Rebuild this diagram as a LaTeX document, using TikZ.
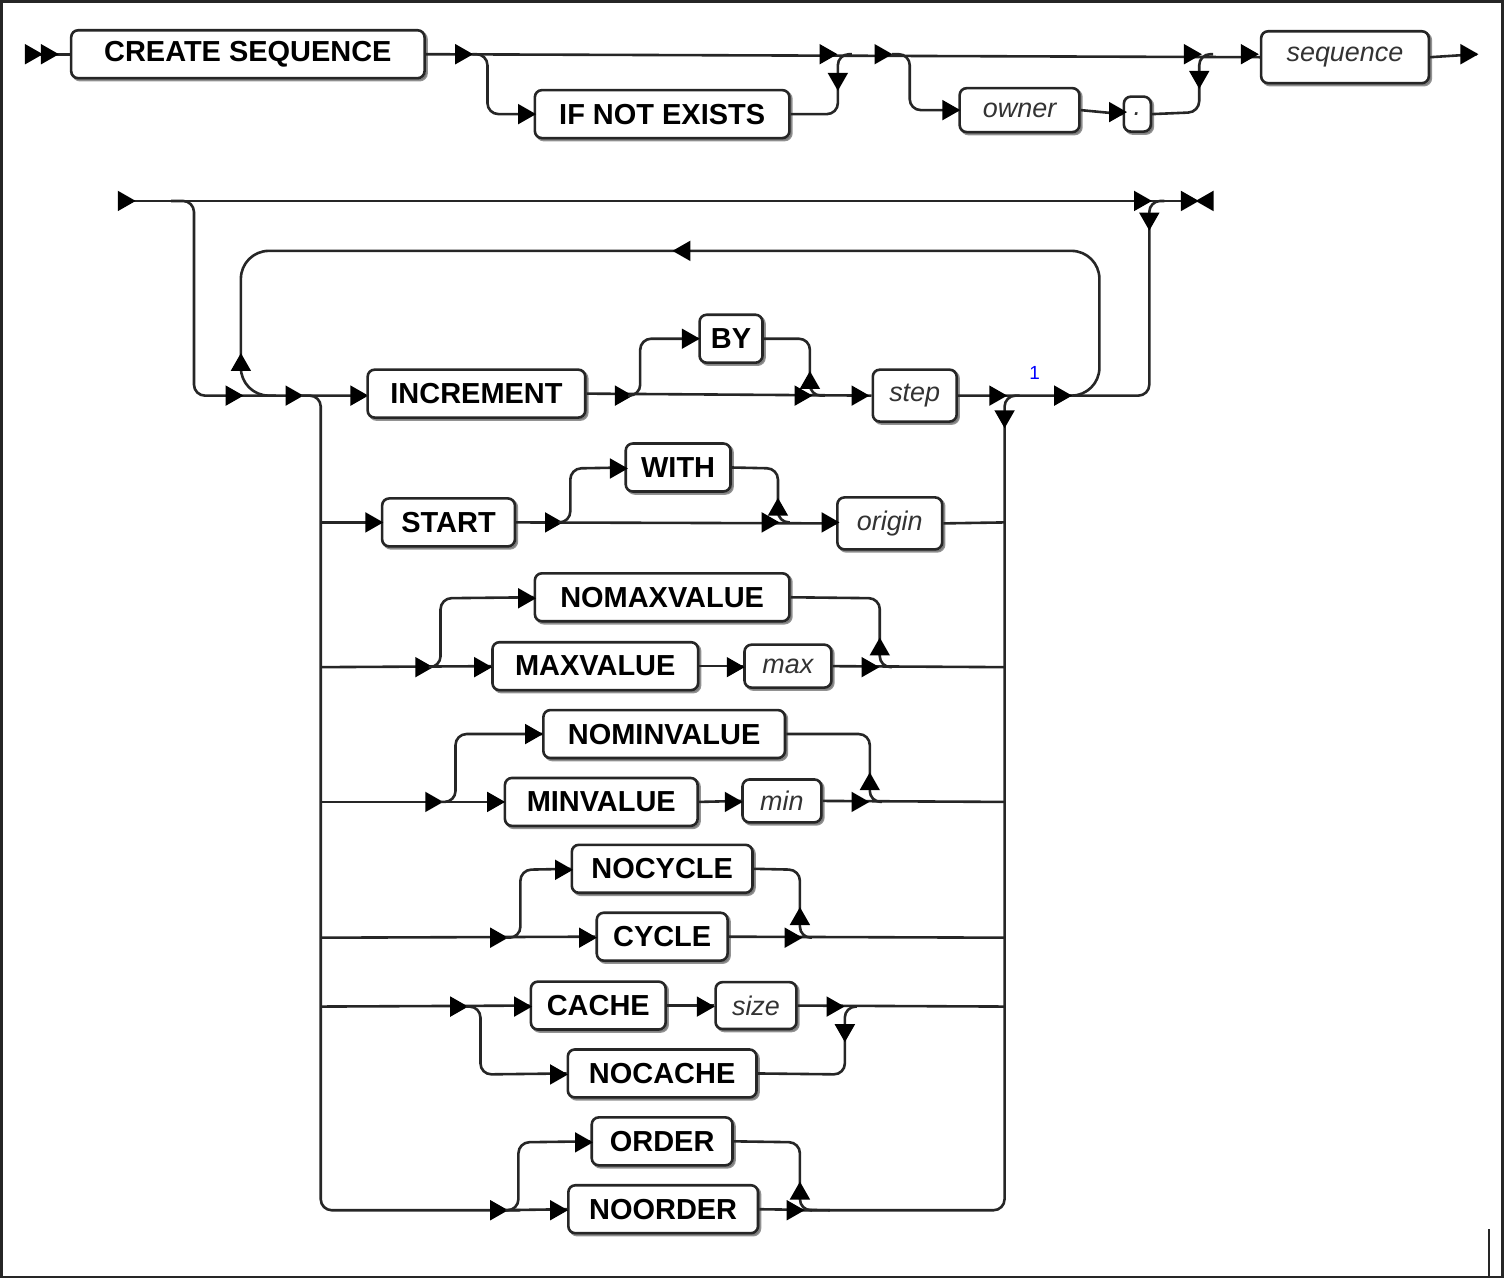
\documentclass[tikz,border=0pt]{standalone}
\usepackage{fontspec}
\setmainfont{Liberation Sans}
\usetikzlibrary{shadows}
\begin{document}
\begin{tikzpicture}[x=1pt,y=-1pt,
  every path/.style={line width=2.6pt,draw=black!85},
  rc/.style={rounded corners=11pt},
  box/.style={draw=black!85,fill=white,line width=2.6pt,rounded corners=7pt,minimum height=48pt,inner sep=0pt,
     drop shadow={shadow xshift=2pt,shadow yshift=-2pt,fill=black!35}},
  kw/.style={box,font=\fontsize{29}{30}\bfseries\selectfont},
  idn/.style={box,font=\fontsize{27}{28}\itshape\selectfont,text=black!80},
  ar/.pic={\fill[black] (-9,-8)--(5,0)--(-9,8)--cycle;}]
\useasboundingbox (0,0) rectangle (1504,1278);
\newcommand\R[2]{\pic at (#1,#2) {ar};}
\newcommand\D[2]{\pic[rotate=90] at (#1,#2) {ar};}
\newcommand\U[2]{\pic[rotate=-90] at (#1,#2) {ar};}
\newcommand\Lf[2]{\pic[rotate=180] at (#1,#2) {ar};}
% row 1
\node[kw,minimum width=354] (cs) at (247,53) {CREATE SEQUENCE};
\node[kw,minimum width=255] (ine) at (662,113) {IF NOT EXISTS};
\node[idn,minimum width=120,minimum height=44] (own) at (1020,109) {owner};
\node[idn,minimum width=27,minimum height=35] (dot) at (1138,113) {.};
\node[idn,minimum width=168,minimum height=52] (seq) at (1346,56) {sequence};
\draw (28,53) -- (cs.west);
\R{34}{53}\R{50}{53}
\draw (cs.east) -- (seq.west);
\draw (seq.east) -- (1478,53);
\R{465}{53}\R{830}{53}\R{885}{53}\R{1195}{53}\R{1252}{53}\R{1472}{53}
\draw[rc] (472,53)--(487,53)--(487,113)--(ine.west); \R{528}{113}
\draw[rc] (ine.east)--(838,113)--(838,53)--(852,53); \U{838}{82}
\draw[rc] (892,53)--(910,53)--(910,109)--(own.west); \R{953}{109}
\draw (own.east)--(dot.west); \R{1120}{111}
\draw[rc] (dot.east)--(1200,111)--(1200,53)--(1214,53); \U{1200}{80}
% row 2 skeleton
\draw (120,200)--(1208,200);
\R{127}{200}\R{1145}{200}\R{1192}{200}\Lf{1204}{200}
\draw[rc] (170,200)--(193,200)--(193,395)--(365,395);
\draw[rounded corners=28pt] (1060,395)--(1100,395)--(1100,250)--(240,250)--(240,395)--(275,395);
\Lf{680}{250}\D{240}{360}
\R{235}{395}\R{295}{395}\R{360}{395}
% INCREMENT
\node[kw,minimum width=218] (inc) at (476,393) {INCREMENT};
\node[kw,minimum width=63] (by) at (731,338) {BY};
\node[idn,minimum width=84,minimum height=52] (step) at (915,395) {step};
\draw (inc.east)--(step.west); \R{625}{395}\R{805}{395}\R{862}{395}
\draw[rc] (628,395)--(640,395)--(640,338)--(by.west); \R{692}{338}
\draw[rc] (by.east)--(810,338)--(810,395)--(825,395); \D{810}{378}
\draw[rc] (step.east)--(1150,395)--(1150,200)--(1165,200);
\R{1000}{395}\R{1065}{395}\U{1150}{222}
\node[text=blue,font=\fontsize{19}{20}\selectfont] (one) at (1035,372) {1};
% left and right verticals
\draw[rc] (300,395)--(320,395)--(320,1211)--(520,1211);
\draw[rc] (800,1211)--(1005,1211)--(1005,395)--(1020,395);
\U{1005}{420}
% START
\node[kw,minimum width=133] (start) at (448,522) {START};
\node[kw,minimum width=105] (with) at (678,467) {WITH};
\node[idn,minimum width=105,minimum height=52] (orig) at (890,523) {origin};
\draw (320,522)--(start.west); \R{375}{522}
\draw (start.east)--(orig.west); \R{555}{522}\R{772}{522}\R{832}{522}
\draw[rc] (558,522)--(570,522)--(570,468)--(with.west); \R{620}{468}
\draw[rc] (with.east)--(778,468)--(778,522)--(790,522); \D{778}{505}
\draw (orig.east)--(1005,522);
% MAXVALUE
\node[kw,minimum width=255] (nomax) at (662,597) {NOMAXVALUE};
\node[kw,minimum width=206] (maxv) at (595,666) {MAXVALUE};
\node[idn,minimum width=87,minimum height=43] (maxb) at (788,666) {max};
\draw (320,667)--(maxv.west); \R{425}{667}\R{484}{667}
\draw[rc] (428,667)--(440,667)--(440,598)--(nomax.west); \R{528}{598}
\draw[rc] (nomax.east)--(880,598)--(880,667)--(892,667); \D{880}{645}
\draw (maxv.east)--(maxb.west); \R{737}{667}
\draw (maxb.east)--(1005,667); \R{872}{667}
% MINVALUE
\node[kw,minimum width=242] (nomin) at (664,734) {NOMINVALUE};
\node[kw,minimum width=193] (minv) at (601,802) {MINVALUE};
\node[idn,minimum width=79,minimum height=43] (minb) at (782,801) {min};
\draw (320,802)--(minv.west); \R{435}{802}\R{497}{802}
\draw[rc] (440,802)--(455,802)--(455,734)--(nomin.west); \R{535}{734}
\draw[rc] (nomin.east)--(870,734)--(870,802)--(882,802); \D{870}{780}
\draw (minv.east)--(minb.west); \R{735}{802}
\draw (minb.east)--(1005,802); \R{862}{802}
% CYCLE
\node[kw,minimum width=181] (nocy) at (662,869) {NOCYCLE};
\node[kw,minimum width=131] (cy) at (662,937) {CYCLE};
\draw (320,938)--(cy.west); \R{500}{938}\R{589}{938}
\draw[rc] (505,938)--(520,938)--(520,870)--(nocy.west); \R{565}{870}
\draw[rc] (nocy.east)--(800,870)--(800,938)--(812,938); \D{800}{915}
\draw (cy.east)--(1005,938); \R{795}{938}
% CACHE
\node[kw,minimum width=135] (cache) at (598,1006) {CACHE};
\node[idn,minimum width=81,minimum height=47] (size) at (756,1006) {size};
\node[kw,minimum width=189] (nocache) at (662,1074) {NOCACHE};
\draw (320,1007)--(cache.west); \R{460}{1007}\R{524}{1007}
\draw[rc] (465,1007)--(480,1007)--(480,1075)--(nocache.west); \R{560}{1075}
\draw (cache.east)--(size.west); \R{707}{1007}
\draw (size.east)--(1005,1007); \R{837}{1007}
\draw[rc] (nocache.east)--(845,1075)--(845,1007)--(857,1007); \U{845}{1035}
% ORDER
\node[kw,minimum width=141] (ord) at (662,1142) {ORDER};
\node[kw,minimum width=190] (noord) at (663,1210) {NOORDER};
\draw (noord.east)--(830,1211); \draw (500,1211)--(noord.west);
\R{500}{1211}\R{560}{1211}\R{797}{1211}
\draw[rc] (505,1211)--(518,1211)--(518,1143)--(ord.west); \R{585}{1143}
\draw[rc] (ord.east)--(800,1143)--(800,1211)--(812,1211); \D{800}{1190}
\draw[line width=2pt] (1490,1230)--(1490,1278);
\end{tikzpicture}
\end{document}
